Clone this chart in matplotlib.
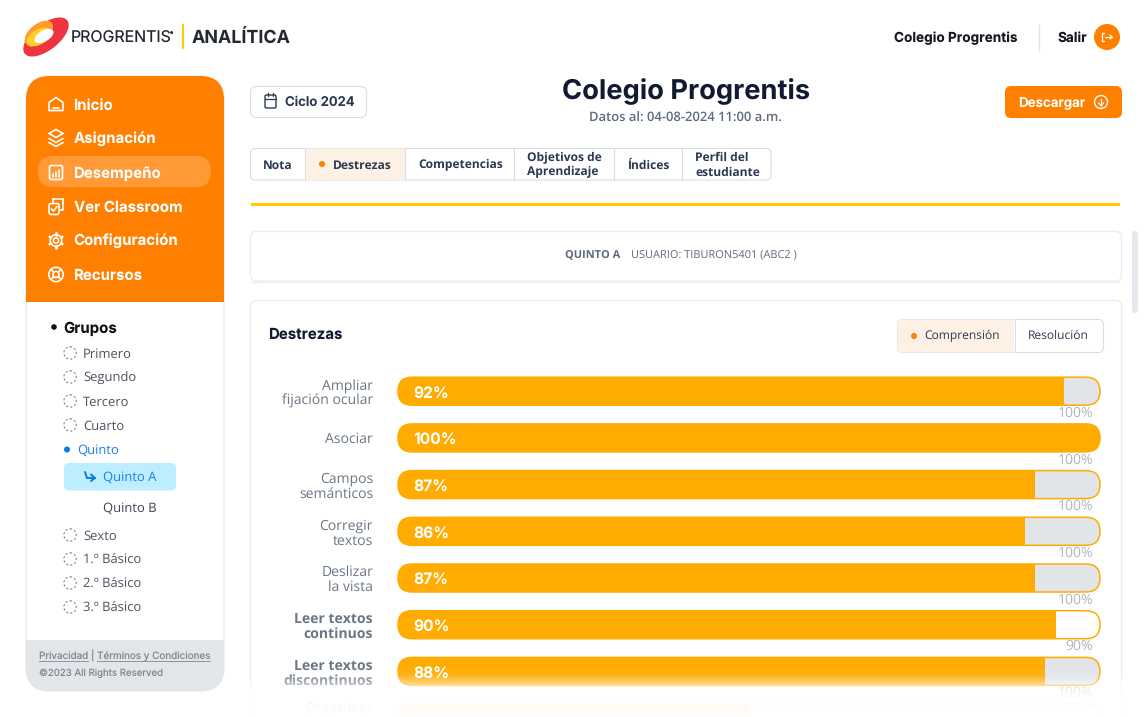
"""Progrentis Analitica dashboard, Destrezas view."""
import numpy as np
import matplotlib
matplotlib.use("Agg")
import matplotlib.pyplot as plt
from matplotlib.patches import Circle, Ellipse, FancyBboxPatch, Polygon, Rectangle

plt.rcParams["text.hinting"] = "no_hinting"
plt.rcParams["text.hinting_factor"] = 1

W, H = 1148, 717
HEAD = "Inter"
BODY = "Open Sans"
ORANGE = "#ff8000"
AMBER = "#ffab00"
DARK = "#2b3950"
GRAY = "#6b7684"
EDGE = "#d9dee6"

# chart data, the last row only peeks in under the fade
skills = ["Ampliar\nfijación ocular", "Asociar", "Campos\nsemánticos", "Corregir\ntextos",
          "Deslizar\nla vista", "Leer textos\ncontinuos", "Leer textos\ndiscontinuos"]
score_labels = [92, 100, 87, 86, 87, 90, 88]
# how far each fill reaches along its track
fill_share = [94.9, 100, 90.7, 89.3, 90.7, 93.7, 92.2]
totals = [100, 100, 100, 100, 100, 90, 100]
bold_skills = [5, 6]
partial_skill = "Organizar"
partial_share = 50

menu_items = ["Inicio", "Asignación", "Desempeño", "Ver Classroom", "Configuración", "Recursos"]
groups_top = ["Primero", "Segundo", "Tercero", "Cuarto"]
groups_bottom = ["Sexto", "1.º Básico", "2.º Básico", "3.º Básico"]
tabs = ["Nota", "Destrezas", "Competencias", "Objetivos de\nAprendizaje", "Índices", "Perfil del\nestudiante"]
tab_edges = [250, 305, 405, 514, 614, 682, 771]


def px(size):
    return size * 72 / 100


def box(ax, x0, y0, x1, y1, r=6, fc="white", ec="none", lw=0.8, z=1):
    p = FancyBboxPatch((x0, y0), x1 - x0, y1 - y0, boxstyle=f"round,pad=0,rounding_size={r}",
                       fc=fc, ec=ec, lw=lw, zorder=z)
    ax.add_patch(p)
    return p


def txt(ax, x, y, s, size, color=DARK, weight="normal", family=BODY, ha="left", z=5, **kw):
    # css-like vertical centring sits a touch lower than matplotlib's
    return ax.text(x, y + 0.8, s, fontsize=px(size), color=color, fontweight=weight, family=family,
                   ha=ha, va="center", zorder=z, **kw)


def line(ax, xs, ys, color="white", lw=1.2, z=6):
    ax.plot(xs, ys, color=color, lw=lw, zorder=z, solid_capstyle="round", solid_joinstyle="round")


def draw_logo(ax):
    ax.add_patch(Ellipse((46, 37), 54, 26, angle=-38, fc="#ef3340", zorder=3))
    ax.add_patch(Polygon([(24, 41), (33, 32), (36, 44), (31, 47), (27, 45)], fc="#ffa726", zorder=4))
    ax.add_patch(Ellipse((39, 33), 33, 18, angle=-38, fc="#ff9a2e", zorder=4))
    ax.add_patch(Ellipse((39, 37), 27, 15, angle=-30, fc="#ffd02a", zorder=5))
    ax.add_patch(Ellipse((44, 36), 21, 11, angle=-30, fc="white", zorder=6))
    txt(ax, 71, 38, "PROGRENTIS", 15.9, color="#222730", family=HEAD)
    txt(ax, 170, 33, "®", 5, color="#222730", family=HEAD)
    ax.add_patch(Rectangle((182, 24), 2.4, 25, fc="#ffcc00", zorder=2))
    txt(ax, 192, 37, "ANALÍTICA", 17.9, color="#222730", weight="bold", family=HEAD)


def draw_header(ax):
    txt(ax, 1017, 37.5, "Colegio Progrentis", 13.6, color="#14171f", weight="bold", family=HEAD, ha="right")
    ax.plot([1039, 1039], [25, 50], color="#dfe3e9", lw=1, zorder=2)
    txt(ax, 1058, 37.5, "Salir", 13.6, color="#14171f", weight="bold", family=HEAD)
    ax.add_patch(Circle((1107, 37), 13, fc=ORANGE, zorder=2))
    line(ax, [1104, 1102, 1102, 1104], [33, 33, 41, 41], lw=0.9)
    line(ax, [1105, 1112], [37, 37], lw=0.9)
    line(ax, [1110, 1112, 1110], [35, 37, 39], lw=0.9)

    txt(ax, 686, 91, "Colegio Progrentis", 27.3, color="#111a33", weight="bold", family=HEAD, ha="center")
    txt(ax, 685, 118, "Datos al: 04-08-2024 11:00 a.m.", 13.2, color="#5e6a7d", weight="semibold", ha="center")

    box(ax, 250.5, 86.5, 366.5, 117.5, r=6, ec=EDGE)
    box(ax, 265, 95, 276, 108, r=1.5, fc="none", ec=DARK, lw=1)
    line(ax, [265, 276], [99, 99], color=DARK, lw=0.9)
    line(ax, [268, 268], [93, 96], color=DARK, lw=0.9)
    line(ax, [273, 273], [93, 96], color=DARK, lw=0.9)
    txt(ax, 285, 101.5, "Ciclo 2024", 13.2, weight="semibold", family=HEAD)

    box(ax, 1005, 86, 1122, 118, r=6, fc=ORANGE)
    txt(ax, 1018, 101.5, "Descargar", 13.4, color="white", weight="semibold", family=HEAD)
    ax.add_patch(Circle((1101, 102), 6.5, fc="none", ec="white", lw=1, zorder=6))
    line(ax, [1101, 1101], [98.5, 105.5], lw=0.9)
    line(ax, [1098.5, 1101, 1103.5], [103, 105.5, 103], lw=0.9)


def draw_menu_icon(ax, i, y):
    cx = 56
    if i == 0:
        line(ax, [49, 49, 56, 63, 63, 49], [y + 6, y - 2, y - 7, y - 2, y + 6, y + 6])
        line(ax, [53, 59], [y + 3.5, y + 3.5])
    elif i == 1:
        for dy in (-5, 0, 4):
            line(ax, [49, 56, 63], [y + dy, y + dy + 4, y + dy])
        line(ax, [49, 56, 63], [y - 5, y - 9, y - 5])
    elif i == 2:
        ax.add_patch(FancyBboxPatch((49.5, y - 7), 13, 14, boxstyle="round,pad=0,rounding_size=2",
                                    fc="none", ec="white", lw=1.2, zorder=6))
        for dx, top in zip((53, 56, 59), (1, -1, -3)):
            line(ax, [dx, dx], [y + 4, y + top])
    elif i == 3:
        ax.add_patch(FancyBboxPatch((49, y - 3), 10, 11, boxstyle="round,pad=0,rounding_size=2",
                                    fc="none", ec="white", lw=1.2, zorder=6))
        line(ax, [53, 53, 63, 63, 60], [y - 5, y - 8, y - 8, y + 3, y + 3])
        line(ax, [51.5, 53.5, 57], [y + 2.5, y + 4.5, y])
    elif i == 4:
        ax.add_patch(Circle((cx, y), 2.6, fc="none", ec="white", lw=1.1, zorder=6))
        ax.add_patch(Circle((cx, y), 5.8, fc="none", ec="white", lw=1.1, zorder=6))
        for a in np.deg2rad(np.arange(30, 390, 60)):
            line(ax, [cx + 5.8 * np.cos(a), cx + 7.2 * np.cos(a)], [y + 5.8 * np.sin(a), y + 7.2 * np.sin(a)], lw=2)
    else:
        ax.add_patch(Circle((cx, y), 7.2, fc="none", ec="white", lw=1.2, zorder=6))
        ax.add_patch(Circle((cx, y), 3, fc="none", ec="white", lw=1.2, zorder=6))
        for a in np.deg2rad([45, 135, 225, 315]):
            line(ax, [cx + 3 * np.cos(a), cx + 7.2 * np.cos(a)], [y + 3 * np.sin(a), y + 7.2 * np.sin(a)])


def group_row(ax, name, y):
    ax.add_patch(Circle((70, y), 6.2, fc="none", ec="#6f7680", lw=0.7, ls=(0, (2.2, 2.2)), zorder=4))
    txt(ax, 83, y + 0.5, name, 12.5, color="#4a5360")


def draw_sidebar(ax):
    shell = box(ax, 26, 76, 224, 691, r=24, ec="#e6eaef", lw=1)
    top = Rectangle((26, 76), 198, 225.5, fc=ORANGE, zorder=2)
    foot = Rectangle((26, 640), 198, 52, fc="#e2e6e9", zorder=2)
    ax.add_patch(top)
    ax.add_patch(foot)
    top.set_clip_path(shell)
    foot.set_clip_path(shell)
    box(ax, 38, 156, 211, 187, r=15, fc="#ff9a36", z=3)
    for i, item in enumerate(menu_items):
        y = 104.5 + 34 * i
        txt(ax, 73.5, y, item, 15, color="white", weight="bold", family=HEAD)
        draw_menu_icon(ax, i, y)

    ax.add_patch(Circle((54, 327), 2.8, fc="#111111", zorder=4))
    txt(ax, 63.5, 328, "Grupos", 15, color="#111111", weight="bold", family=HEAD)
    for name, y in zip(groups_top, [353, 377, 401, 425]):
        group_row(ax, name, y)
    for name, y in zip(groups_bottom, [535, 559, 583, 607]):
        group_row(ax, name, y)

    ax.add_patch(Circle((67, 449.5), 3, fc="#0a7de0", zorder=4))
    txt(ax, 77, 449.5, "Quinto", 12.5, color="#1a82e2")
    box(ax, 64, 463, 176, 490.5, r=5, fc="#bdeeff", z=3)
    line(ax, [85, 87, 95], [472, 478, 478], color="#0a7de0", lw=1.4)
    line(ax, [91, 95, 91], [474.5, 478, 481], color="#0a7de0", lw=1.4)
    txt(ax, 103, 477, "Quinto A", 12.5, color="#1a82e2")
    txt(ax, 103, 507.5, "Quinto B", 12.5, color="#3a4453")

    txt(ax, 39, 655.5, "Privacidad | Términos y Condiciones", 9.9, color="#7d8894", family=HEAD, z=4)
    ax.plot([39, 88], [661, 661], color="#7d8894", lw=0.6, zorder=4)
    ax.plot([97, 210], [661, 661], color="#7d8894", lw=0.6, zorder=4)
    txt(ax, 39, 672, "©2023 All Rights Reserved", 9.7, color="#7d8894", family=HEAD, z=4)


def draw_tabs(ax):
    outer = box(ax, 250.5, 148.5, 771, 180, r=5, ec=EDGE)
    sel = Rectangle((305, 148), 100, 32, fc="#fdf1e6", zorder=2)
    ax.add_patch(sel)
    sel.set_clip_path(outer)
    for x in tab_edges[1:-1]:
        ax.plot([x, x], [149, 180], color=EDGE, lw=0.8, zorder=3)
    for i, t in enumerate(tabs):
        x = tab_edges[i] + 13
        if i == 1:
            ax.add_patch(Circle((322, 164), 3, fc=ORANGE, zorder=4))
            x = 333
        txt(ax, x, 164.5, t, 12, color=DARK, weight="bold", linespacing=1.25)
    ax.add_patch(Rectangle((251, 202.6), 869, 3.4, fc="#ffcc00", zorder=2))


def draw_cards(ax):
    box(ax, 250.5, 231.5, 1121.5, 281, r=6, ec="#e9ecf0", lw=0.9)
    ax.plot([252, 1120], [281.5, 281.5], color="#e8ebee", lw=0.8, zorder=1)
    txt(ax, 565, 254.5, "QUINTO A", 11, color="#5e6a7d", weight="bold")
    txt(ax, 631, 254.5, "USUARIO: TIBURON5401 (ABC2 )", 11.3, color="#5e6a7d")

    box(ax, 250.5, 300.5, 1121.5, 740, r=6, ec="#e9ecf0", lw=0.9)
    txt(ax, 268.5, 333.5, "Destrezas", 15, color="#111a33", weight="bold", family=HEAD)
    outer = box(ax, 897.5, 319.5, 1103.5, 352.5, r=5, ec=EDGE, z=2)
    sel = Rectangle((897, 319), 117, 34, fc="#fdf1e6", zorder=2)
    ax.add_patch(sel)
    sel.set_clip_path(outer)
    ax.plot([1014.5, 1014.5], [320, 352], color=EDGE, lw=0.8, zorder=3)
    ax.add_patch(Circle((914, 336), 3, fc=ORANGE, zorder=4))
    txt(ax, 924, 335, "Comprensión", 12.1, color=DARK)
    txt(ax, 1028, 335, "Resolución", 12.4, color=DARK)
    box(ax, 1132, 231, 1138, 313, r=3, fc="#e3e8ef")


def add_track(ax, i, share, track_fc, bar_h, xr, row_h):
    style = f"round,pad=0,rounding_size={14 / xr}"
    track = FancyBboxPatch((0, i - bar_h / 2), 100, bar_h, boxstyle=style, mutation_aspect=xr / row_h,
                           fc=track_fc, ec="none", zorder=1, clip_on=False)
    ax.add_patch(track)
    bars = ax.barh(i, share, height=bar_h, color=AMBER, zorder=2)
    bars[0].set_clip_path(track)
    rim = FancyBboxPatch((0, i - bar_h / 2), 100, bar_h, boxstyle=style, mutation_aspect=xr / row_h,
                         fc="none", ec=AMBER, lw=1.1, zorder=3, clip_on=False)
    ax.add_patch(rim)


def draw_bars(fig):
    row_h = 46.7
    first = 391.2
    top, bottom = first - row_h / 2, H
    ax = fig.add_axes([398 / W, 1 - bottom / H, 702 / W, (bottom - top) / H], zorder=2)
    ax.patch.set_alpha(0)
    ax.set_xlim(0, 100)
    ax.set_ylim((bottom - first) / row_h, -0.5)
    for s in ax.spines.values():
        s.set_visible(False)
    ax.xaxis.set_visible(False)
    ax.set_yticks(range(len(skills)))
    ax.set_yticklabels(skills, fontsize=px(14.3), color=GRAY, family=BODY, linespacing=1.08)
    ax.tick_params(axis="y", length=0, pad=25 * 72 / 100)
    for i, lab in enumerate(ax.get_yticklabels()):
        lab.set_multialignment("right")
        if i in bold_skills:
            lab.set_fontweight("bold")

    bar_h = 28 / row_h
    xr = 7.02
    for i, (score, share, total) in enumerate(zip(score_labels, fill_share, totals)):
        add_track(ax, i, share, "white" if total < 100 else "#e1e5e8", bar_h, xr, row_h)
        ax.annotate(f"{score}%", (0, i), xytext=(15.5, -2), textcoords="offset pixels", color="white",
                    fontsize=px(15.6), fontweight="bold", family=HEAD, va="center", zorder=4)
        ax.annotate(f"{total}%", (100, i), xytext=(-7, -22), textcoords="offset pixels", color="#aeb5be",
                    fontsize=px(13.6), family=BODY, ha="right", va="center", zorder=4, annotation_clip=False)

    row = len(skills)
    add_track(ax, row, partial_share, "white", bar_h, xr, row_h)
    ax.annotate(partial_skill, (0, row), xytext=(-25, 9), textcoords="offset pixels", color=GRAY,
                fontsize=px(14), fontweight="bold", family=BODY, ha="right", va="center", annotation_clip=False)


def draw_fade(fig):
    # white fade at the bottom of the scrolling content
    ax = fig.add_axes([240 / W, 0, 890 / W, 62 / H], zorder=5)
    ax.axis("off")
    ys = np.linspace(655, 717, 124)
    alpha = np.interp(ys, [665, 675, 685, 692, 702, 717], [0, 0.1, 0.55, 0.8, 0.95, 1])
    img = np.ones((len(ys), 1, 4))
    img[:, 0, 3] = alpha
    ax.imshow(img, aspect="auto", extent=(0, 1, 0, 1), origin="upper")


def main():
    fig = plt.figure(figsize=(W / 100, H / 100), dpi=100, facecolor="white")
    ax = fig.add_axes([0, 0, 1, 1], zorder=1)
    ax.set_xlim(0, W)
    ax.set_ylim(H, 0)
    ax.axis("off")

    draw_logo(ax)
    draw_header(ax)
    draw_sidebar(ax)
    draw_tabs(ax)
    draw_cards(ax)
    draw_bars(fig)
    draw_fade(fig)
    fig.savefig("out.png", dpi=100)
    plt.close(fig)


if __name__ == "__main__":
    main()
